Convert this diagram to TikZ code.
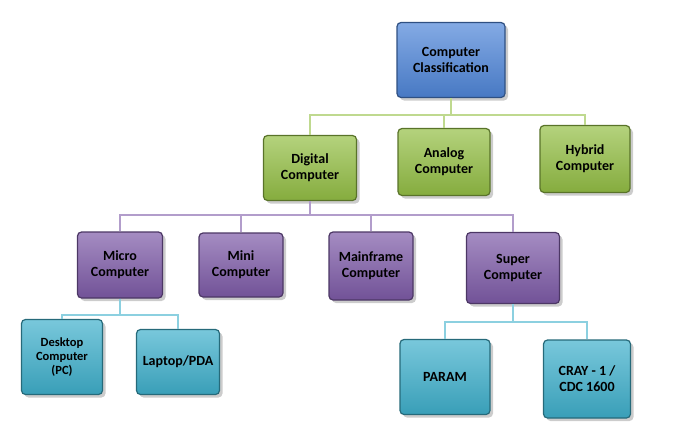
\documentclass[tikz,border=0pt]{standalone}
\usepackage{fontspec}
\setmainfont{Carlito}
\usetikzlibrary{shadows}
\definecolor{cblue}{HTML}{4F86D9}
\definecolor{cgreen}{HTML}{94BF45}
\definecolor{cpurple}{HTML}{7E5BA8}
\definecolor{ccyan}{HTML}{3FB0CC}
\begin{document}
\begin{tikzpicture}[x=1pt,y=-1pt,
  box/.style={draw=#1!60!black,line width=1.2pt,rounded corners=4pt,top color=#1!70!white,bottom color=#1!90!black,
    drop shadow={shadow xshift=3pt,shadow yshift=-3pt,opacity=0.4},
    font=\bfseries\fontsize{14}{16}\selectfont,align=center,text=black,inner sep=2pt},
  ln/.style={draw=#1!60!white,line width=1.3pt}]
\useasboundingbox (0,0) rectangle (679,434);
\node[box=cblue,minimum width=108pt,minimum height=75pt] (cc) at (451,60) {Computer\\Classification};
\node[box=cgreen,minimum width=93pt,minimum height=65pt] (dig) at (310,168) {Digital\\Computer};
\node[box=cgreen,minimum width=92pt,minimum height=67pt] (ana) at (444,162) {Analog\\Computer};
\node[box=cgreen,minimum width=90pt,minimum height=67pt] (hyb) at (585,159) {Hybrid\\Computer};
\node[box=cpurple,minimum width=85pt,minimum height=66pt] (mic) at (120,265) {Micro\\Computer};
\node[box=cpurple,minimum width=84pt,minimum height=64pt] (min) at (241,265) {Mini\\Computer};
\node[box=cpurple,minimum width=84pt,minimum height=68pt] (mai) at (371,266) {Mainframe\\Computer};
\node[box=cpurple,minimum width=93pt,minimum height=71pt] (sup) at (513,268) {Super\\Computer};
\node[box=ccyan,minimum width=81pt,minimum height=75pt,font=\bfseries\fontsize{12.5}{14}\selectfont] (des) at (62,357) {Desktop\\Computer\\(PC)};
\node[box=ccyan,minimum width=83pt,minimum height=65pt] (lap) at (178,362) {Laptop/PDA};
\node[box=ccyan,minimum width=90pt,minimum height=75pt] (par) at (445,377) {PARAM};
\node[box=ccyan,minimum width=87pt,minimum height=78pt] (cra) at (587,379) {CRAY - 1 /\\CDC 1600};
\coordinate (g) at (451,115); \coordinate (p) at (310,215);
\coordinate (c) at (120,315); \coordinate (s) at (513,322);
\draw[ln=cgreen] (cc.south) -- (g);
\draw[ln=cgreen] (dig.north) |- (g) -| (ana.north);
\draw[ln=cgreen] (g) -| (hyb.north);
\draw[ln=cpurple] (dig.south) -- (p);
\draw[ln=cpurple] (mic.north) |- (p) -| (min.north);
\draw[ln=cpurple] (p) -| (mai.north);
\draw[ln=cpurple] (p) -| (sup.north);
\draw[ln=ccyan] (mic.south) -- (c);
\draw[ln=ccyan] (des.north) |- (c) -| (lap.north);
\draw[ln=ccyan] (sup.south) -- (s);
\draw[ln=ccyan] (par.north) |- (s) -| (cra.north);
\end{tikzpicture}
\end{document}
